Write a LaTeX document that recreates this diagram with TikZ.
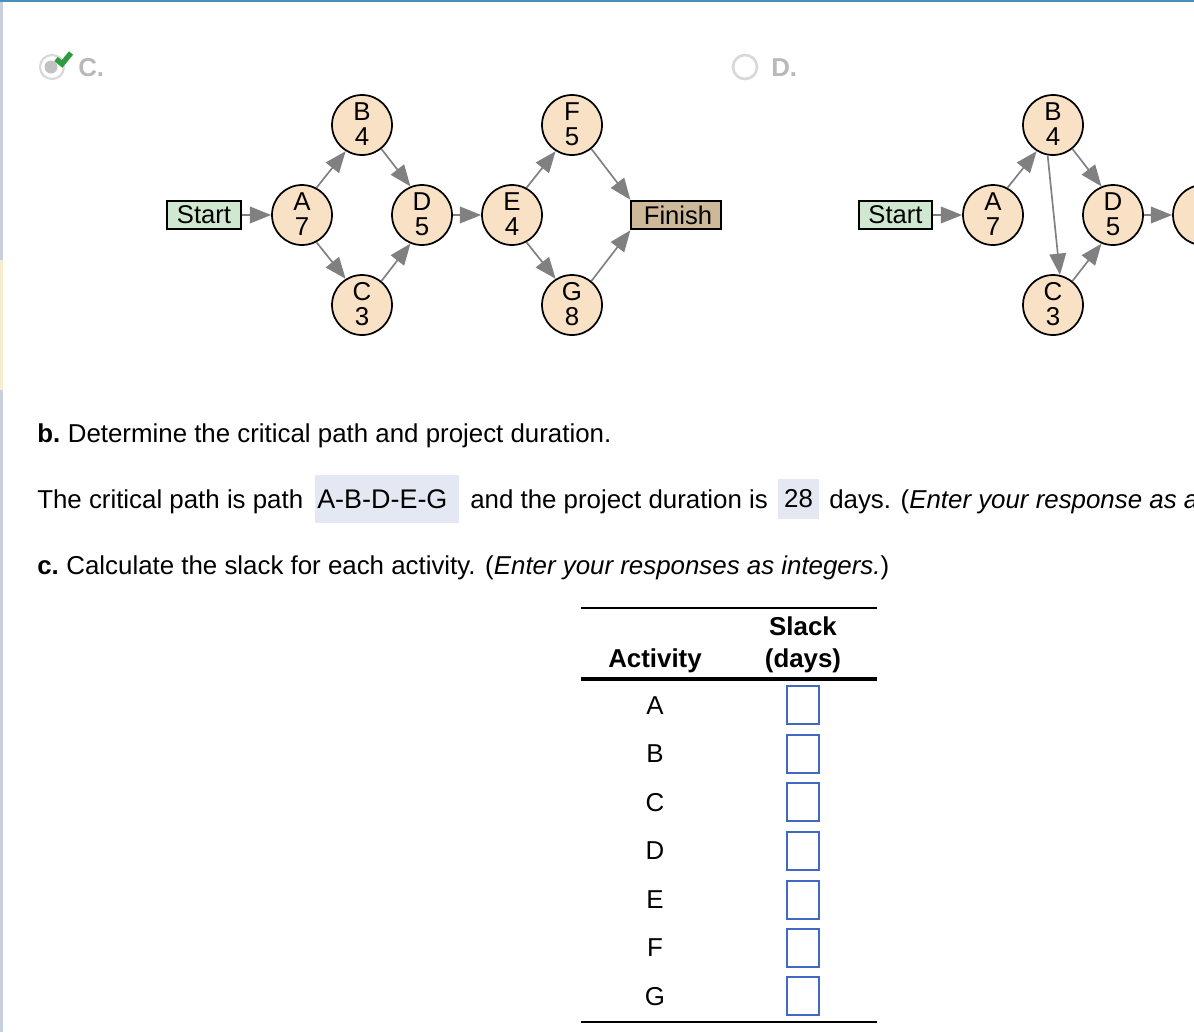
\documentclass[tikz,border=0pt]{standalone}
\usepackage{fontspec}
\setmainfont{Liberation Sans}
\usetikzlibrary{arrows.meta}
\definecolor{actfill}{HTML}{F9E1C6}
\definecolor{startfill}{HTML}{D0E8CF}
\definecolor{finishfill}{HTML}{CDB99A}
\definecolor{edgegray}{HTML}{808080}
\definecolor{hilite}{HTML}{E4E8F2}
\definecolor{inputblue}{HTML}{4169C4}
\definecolor{labelgray}{HTML}{B9B9B9}
\definecolor{ringgray}{HTML}{D8D8D8}
\definecolor{checkgreen}{HTML}{2E9B3F}
\definecolor{edgeleft}{HTML}{C8D0E0}
\definecolor{edgeyellow}{HTML}{F7EDCF}
\definecolor{edgetop}{HTML}{4A8DB8}
\tikzset{activity/.style = {circle, draw, line width=1.3pt, fill=actfill, minimum size=45pt,
                            inner sep=0pt, align=center, text depth=2pt, font=\fontsize{19.4}{18.75}\selectfont}}
\tikzset{startbox/.style = {draw, line width=1.4pt, fill=startfill, minimum width=55pt, minimum height=21.5pt,
                            inner sep=0pt, font=\fontsize{19.2}{22}\selectfont}}
\tikzset{finishbox/.style = {startbox, fill=finishfill, minimum width=67pt}}
\tikzset{flow/.style = {draw=edgegray, line width=1.25pt, -{Triangle[length=16pt,width=12.5pt,fill=edgegray]}}}
\tikzset{txt/.style = {anchor=base west, inner sep=0pt, font=\fontsize{19.4}{24}\selectfont}}
\tikzset{cell/.style = {anchor=base, inner sep=0pt, font=\fontsize{19.4}{24}\selectfont}}
\tikzset{answer/.style = {draw=inputblue, line width=1.5pt, minimum width=24pt, minimum height=28.5pt, inner sep=0pt}}
\tikzset{rule/.style = {draw=black, line width=#1}}
\begin{document}
\begin{tikzpicture}[x=0.75pt,y=-0.75pt]
            \useasboundingbox (0,0) rectangle (1194,1032);
            % page edges
            \fill[edgeleft] (0,0) rectangle (3,1032);
            \fill[edgeyellow] (0,260) rectangle (3,390);
            \fill[edgetop] (0,0) rectangle (1194,2);
            % option c
            \draw[ringgray, line width=1.6pt, fill=white] (52,67) circle (12);
            \fill[ringgray!90!black] (51,67) circle (6.5);
            \draw[checkgreen, line width=4pt] (56,59) -- (62,64) -- (71,53);
            \node[txt, text=labelgray] (optc) at (78,76) {\textbf{C.}};
            % option d
            \draw[ringgray, line width=2pt, fill=white] (745,67) circle (12);
            \node[txt, text=labelgray] (optd) at (771,76) {\textbf{D.}};
            % network c
            \node[startbox] (startc) at (204,215) {Start};
            \node[activity] (ac) at (302,215) {A\\7};
            \node[activity] (bc) at (362,125) {B\\4};
            \node[activity] (cc) at (362,305) {C\\3};
            \node[activity] (dc) at (422,215) {D\\5};
            \node[activity] (ec) at (512,215) {E\\4};
            \node[activity] (fc) at (572,125) {F\\5};
            \node[activity] (gc) at (572,305) {G\\8};
            \node[finishbox] (finishc) at (676,215) {\hspace*{3pt}Finish};
            \draw[flow] (startc) -- (ac);
            \draw[flow] (ac.62) -- (bc.238);
            \draw[flow] (ac.-62) -- (cc.122);
            \draw[flow] (bc.-51) -- (dc.112);
            \draw[flow] (cc.51) -- (dc.-112);
            \draw[flow] (dc) -- (ec);
            \draw[flow] (ec.62) -- (fc.238);
            \draw[flow] (ec.-62) -- (gc.122);
            \draw[flow] (fc.-51) -- (finishc.north west);
            \draw[flow] (gc.51) -- (finishc.south west);
            % network d
            \node[startbox] (startd) at (895.5,215) {Start};
            \node[activity] (ad) at (993,215) {A\\7};
            \node[activity] (bd) at (1053,125) {B\\4};
            \node[activity] (cd) at (1053,305) {C\\3};
            \node[activity] (dd) at (1113,215) {D\\5};
            \node[activity] (ed) at (1203,215) {};
            \draw[flow] (startd) -- (ad);
            \draw[flow] (ad.62) -- (bd.238);
            \draw[flow] (bd.260) -- (cd.77);
            \draw[flow] (bd.-51) -- (dd.112);
            \draw[flow] (cd.51) -- (dd.-112);
            \draw[flow] (dd) -- (ed);
            % part b
            \node[txt] (partb) at (37,442) {\textbf{b.}\hspace{-1.5pt} Determine the critical path and project duration.};
            \node[txt] (pathtxt) at (37,508) {The critical path is path};
            \node[fill=hilite, minimum width=108pt, minimum height=36pt, inner sep=0pt, font=\fontsize{20.2}{24}\selectfont] (pathans) at (387,499) {\hspace*{-7pt}A-B-D-E-G};
            \node[txt] (durtxt) at (470,508) {and the project duration is};
            \node[fill=hilite, minimum width=30.75pt, minimum height=30pt, inner sep=0pt, font=\fontsize{19.4}{24}\selectfont] (durans) at (798.5,499) {28};
            \node[txt] (daystxt) at (829,508) {days. (\textit{Enter your response as a}};
            % part c
            \node[txt] (partc) at (37,574) {\textbf{c.}\hspace{-1.5pt} Calculate the slack for each activity. (\textit{Enter your responses as integers.})};
            % slack table
            \draw[rule=1.5pt] (581,607.5) -- (877,607.5);
            \node[cell] (slackhead) at (803,635) {\textbf{Slack}};
            \node[cell] (dayshead) at (803,667) {\textbf{(days)}};
            \node[cell] (acthead) at (655,667) {\textbf{Activity}};
            \draw[rule=2.6pt] (581,679) -- (877,679);
            \node[cell] (rowa) at (655,714) {A};
            \node[cell] (rowb) at (655,762) {B};
            \node[cell] (rowc) at (655,811) {C};
            \node[cell] (rowd) at (655,859) {D};
            \node[cell] (rowe) at (655,908) {E};
            \node[cell] (rowf) at (655,956) {F};
            \node[cell] (rowg) at (655,1005) {G};
            \node[answer] (ansa) at (802.5,705) {};
            \node[answer] (ansb) at (802.5,754) {};
            \node[answer] (ansc) at (802.5,802) {};
            \node[answer] (ansd) at (802.5,851) {};
            \node[answer] (anse) at (802.5,899.5) {};
            \node[answer] (ansf) at (802.5,948) {};
            \node[answer] (ansg) at (802.5,996) {};
            \draw[rule=1.5pt] (581,1021.5) -- (877,1021.5);
        \end{tikzpicture}
\end{document}
